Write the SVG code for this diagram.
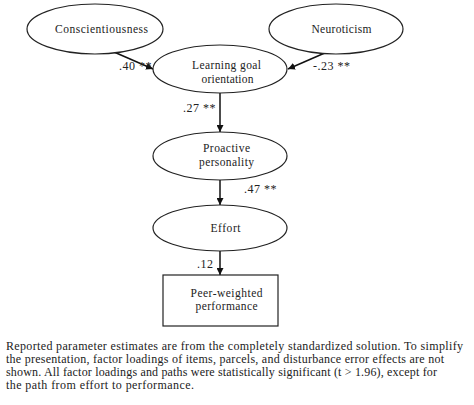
<svg xmlns="http://www.w3.org/2000/svg" width="474" height="405" viewBox="0 0 474 405">
<style>
.n{fill:#fff;stroke:#222;stroke-width:1.2}
.t{font-family:'Liberation Serif','DejaVu Serif',serif;font-size:11.5px;fill:#222;text-anchor:middle;letter-spacing:1px}
.l{font-family:'Liberation Serif','DejaVu Serif',serif;font-size:12px;fill:#222;letter-spacing:0.5px}
.c{stroke:#111;stroke-width:1.5;fill:none;marker-end:url(#ah)}
.f{font-family:'Liberation Serif','DejaVu Serif',serif;font-size:12px;fill:#222}
</style>
<defs>
<marker id="ah" viewBox="0 0 10 10" refX="10" refY="5" markerWidth="7" markerHeight="7" markerUnits="userSpaceOnUse" orient="auto"><path d="M0,0L10,5L0,10z" fill="#111"/></marker>
</defs>
<rect width="474" height="405" fill="#fff"/>
<g id="connectors">
<line class="c" x1="114" y1="52" x2="153" y2="69"/>
<line class="c" x1="327" y1="52" x2="288" y2="69"/>
<line class="c" x1="220" y1="93" x2="220" y2="132"/>
<line class="c" x1="220" y1="180" x2="220" y2="205"/>
<line class="c" x1="220" y1="251" x2="220" y2="275"/>
<text class="l" x="119" y="70">.40 **</text>
<text class="l" x="313" y="70">-.23 **</text>
<text class="l" x="183" y="112">.27 **</text>
<text class="l" x="244" y="193">.47 **</text>
<text class="l" x="197" y="268">.12</text>
</g>
<g id="conscientiousness">
<ellipse class="n" cx="95" cy="29" rx="68" ry="25"/>
<text class="t" x="102" y="33" textLength="94">Conscientiousness</text>
</g>
<g id="neuroticism">
<ellipse class="n" cx="336" cy="29" rx="67" ry="25"/>
<text class="t" x="342" y="33" textLength="61">Neuroticism</text>
</g>
<g id="learning">
<ellipse class="n" cx="220" cy="69" rx="67" ry="24"/>
<text class="t" x="227" y="69" textLength="70">Learning goal</text>
<text class="t" x="228" y="83" textLength="53">orientation</text>
</g>
<g id="proactive">
<ellipse class="n" cx="220" cy="156" rx="67" ry="24"/>
<text class="t" x="227" y="152" textLength="48">Proactive</text>
<text class="t" x="227" y="166" textLength="56">personality</text>
</g>
<g id="effort">
<ellipse class="n" cx="220" cy="228" rx="67" ry="23"/>
<text class="t" x="226" y="232" textLength="31">Effort</text>
</g>
<g id="performance">
<rect class="n" x="163" y="275" width="115" height="51"/>
<text class="t" x="227" y="297" textLength="73">Peer-weighted</text>
<text class="t" x="227" y="310" textLength="63">performance</text>
</g>
<g id="note">
<text class="f" x="6" y="350" textLength="457">Reported parameter estimates are from the completely standardized solution. To simplify</text>
<text class="f" x="6" y="363" textLength="438">the presentation, factor loadings of items, parcels, and disturbance error effects are not</text>
<text class="f" x="6" y="376" textLength="431">shown. All factor loadings and paths were statistically significant (t &gt; 1.96), except for</text>
<text class="f" x="6" y="389" textLength="188">the path from effort to performance.</text>
</g>
</svg>
